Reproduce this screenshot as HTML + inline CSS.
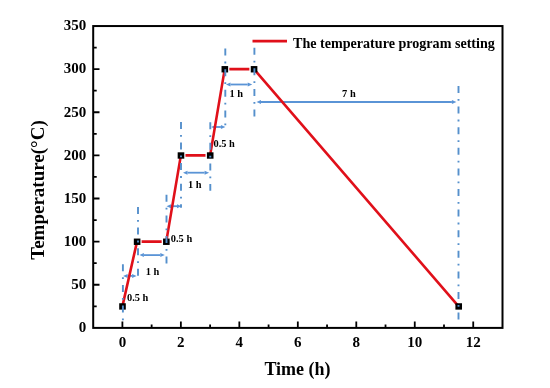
<!DOCTYPE html><html><head><meta charset="utf-8"><style>html,body{margin:0;padding:0;background:#fff;width:550px;height:388px;overflow:hidden}svg{display:block;filter:blur(0.35px)}text{font-family:"Liberation Serif","Times New Roman",serif;font-weight:bold;fill:#000}</style></head><body>
<svg width="550" height="388" viewBox="0 0 550 388">
<rect x="93.2" y="26.05" width="409.30" height="301.85" fill="none" stroke="#000" stroke-width="2"/>
<path d="M93.2 306.34h3.5 M93.2 284.77h6.3 M93.2 263.21h3.5 M93.2 241.65h6.3 M93.2 220.09h3.5 M93.2 198.52h6.3 M93.2 176.96h3.5 M93.2 155.40h6.3 M93.2 133.84h3.5 M93.2 112.27h6.3 M93.2 90.71h3.5 M93.2 69.15h6.3 M93.2 47.59h3.5 M122.40 327.9v-6.3 M151.64 327.9v-3.5 M180.87 327.9v-6.3 M210.11 327.9v-3.5 M239.34 327.9v-6.3 M268.58 327.9v-3.5 M297.82 327.9v-6.3 M327.05 327.9v-3.5 M356.29 327.9v-6.3 M385.52 327.9v-3.5 M414.76 327.9v-6.3 M444.00 327.9v-3.5 M473.23 327.9v-6.3" stroke="#000" stroke-width="1.8" fill="none"/>
<text x="86.3" y="332.20" font-size="15" text-anchor="end">0</text>
<text x="86.3" y="289.07" font-size="15" text-anchor="end">50</text>
<text x="86.3" y="245.95" font-size="15" text-anchor="end">100</text>
<text x="86.3" y="202.82" font-size="15" text-anchor="end">150</text>
<text x="86.3" y="159.70" font-size="15" text-anchor="end">200</text>
<text x="86.3" y="116.57" font-size="15" text-anchor="end">250</text>
<text x="86.3" y="73.45" font-size="15" text-anchor="end">300</text>
<text x="86.3" y="30.32" font-size="15" text-anchor="end">350</text>
<text x="122.40" y="346.8" font-size="15" text-anchor="middle">0</text>
<text x="180.87" y="346.8" font-size="15" text-anchor="middle">2</text>
<text x="239.34" y="346.8" font-size="15" text-anchor="middle">4</text>
<text x="297.82" y="346.8" font-size="15" text-anchor="middle">6</text>
<text x="356.29" y="346.8" font-size="15" text-anchor="middle">8</text>
<text x="414.76" y="346.8" font-size="15" text-anchor="middle">10</text>
<text x="473.23" y="346.8" font-size="15" text-anchor="middle">12</text>
<text x="297.5" y="375.4" font-size="18" text-anchor="middle">Time (h)</text>
<text transform="translate(43.6 190) rotate(-90)" x="0" y="0" font-size="19" text-anchor="middle">Temperature(°C)</text>
<path d="M252.5 41.1H287" stroke="#e0101a" stroke-width="2.6"/>
<text x="293" y="47.5" font-size="14.1">The temperature program setting</text>
<path d="M127.60 275.9H132.10" stroke="#5a94d6" stroke-width="1.8"/><path d="M123.10 275.9l4.5 -2.0v4.0z M136.60 275.9l-4.5 -2.0v4.0z" fill="#5a94d6"/>
<path d="M143.90 255.1H160.30" stroke="#5a94d6" stroke-width="1.8"/><path d="M139.40 255.1l4.5 -2.0v4.0z M164.80 255.1l-4.5 -2.0v4.0z" fill="#5a94d6"/>
<path d="M171.00 206.2H177.00" stroke="#5a94d6" stroke-width="1.8"/><path d="M166.50 206.2l4.5 -2.0v4.0z M181.50 206.2l-4.5 -2.0v4.0z" fill="#5a94d6"/>
<path d="M187.50 172.7H204.60" stroke="#5a94d6" stroke-width="1.8"/><path d="M183.00 172.7l4.5 -2.0v4.0z M209.10 172.7l-4.5 -2.0v4.0z" fill="#5a94d6"/>
<path d="M215.60 127.0H220.90" stroke="#5a94d6" stroke-width="1.8"/><path d="M211.10 127.0l4.5 -2.0v4.0z M225.40 127.0l-4.5 -2.0v4.0z" fill="#5a94d6"/>
<path d="M230.50 84.5H247.70" stroke="#5a94d6" stroke-width="1.8"/><path d="M226.00 84.5l4.5 -2.0v4.0z M252.20 84.5l-4.5 -2.0v4.0z" fill="#5a94d6"/>
<path d="M261.00 102.0H451.90" stroke="#5a94d6" stroke-width="1.8"/><path d="M256.50 102.0l4.5 -2.0v4.0z M456.40 102.0l-4.5 -2.0v4.0z" fill="#5a94d6"/>
<text x="127.0" y="300.9" font-size="10.4">0.5 h</text>
<text x="145.7" y="274.6" font-size="10.4">1 h</text>
<text x="170.8" y="242.1" font-size="10.4">0.5 h</text>
<text x="187.9" y="188.3" font-size="10.4">1 h</text>
<text x="213.5" y="147.3" font-size="10.4">0.5 h</text>
<text x="229.4" y="96.8" font-size="10.4">1 h</text>
<text x="342.1" y="96.8" font-size="10.4">7 h</text>
<path d="M122.40 306.34L137.02 241.65 M141.62 241.65L161.65 241.65 M166.25 241.65L180.87 155.40 M185.47 155.40L205.51 155.40 M210.11 155.40L224.73 69.15 M229.33 69.15L249.36 69.15 M253.96 69.15L458.61 306.34" stroke="#e0101a" stroke-width="2.6" fill="none"/>
<rect x="119.20" y="303.24" width="6.6" height="6.4" fill="#000"/>
<rect x="133.82" y="238.55" width="6.6" height="6.4" fill="#000"/>
<rect x="163.05" y="238.55" width="6.6" height="6.4" fill="#000"/>
<rect x="177.67" y="152.30" width="6.6" height="6.4" fill="#000"/>
<rect x="206.91" y="152.30" width="6.6" height="6.4" fill="#000"/>
<rect x="221.53" y="66.05" width="6.6" height="6.4" fill="#000"/>
<rect x="250.76" y="66.05" width="6.6" height="6.4" fill="#000"/>
<rect x="455.41" y="303.24" width="6.6" height="6.4" fill="#000"/>
<path d="M122.9 264.3V322" stroke="#5590cc" stroke-width="1.9" stroke-dasharray="7 6 1.8 5.8" fill="none"/>
<path d="M138.0 207V276.5" stroke="#5590cc" stroke-width="1.9" stroke-dasharray="7 6 1.8 5.8" fill="none"/>
<path d="M166.5 194.8V263.8" stroke="#5590cc" stroke-width="1.9" stroke-dasharray="7 6 1.8 5.8" fill="none"/>
<path d="M181.0 121.9V207.8" stroke="#5590cc" stroke-width="1.9" stroke-dasharray="7 6 1.8 5.8" fill="none"/>
<path d="M210.3 122.2V190.8" stroke="#5590cc" stroke-width="1.9" stroke-dasharray="7 6 1.8 5.8" fill="none"/>
<path d="M225.3 48.6V125.5" stroke="#5590cc" stroke-width="1.9" stroke-dasharray="7 6 1.8 5.8" fill="none"/>
<path d="M254.4 47.7V117.2" stroke="#5590cc" stroke-width="1.9" stroke-dasharray="7 6 1.8 5.8" fill="none"/>
<path d="M458.5 86V320.6" stroke="#5590cc" stroke-width="1.9" stroke-dasharray="7 6 1.8 5.8" fill="none"/>
</svg></body></html>
